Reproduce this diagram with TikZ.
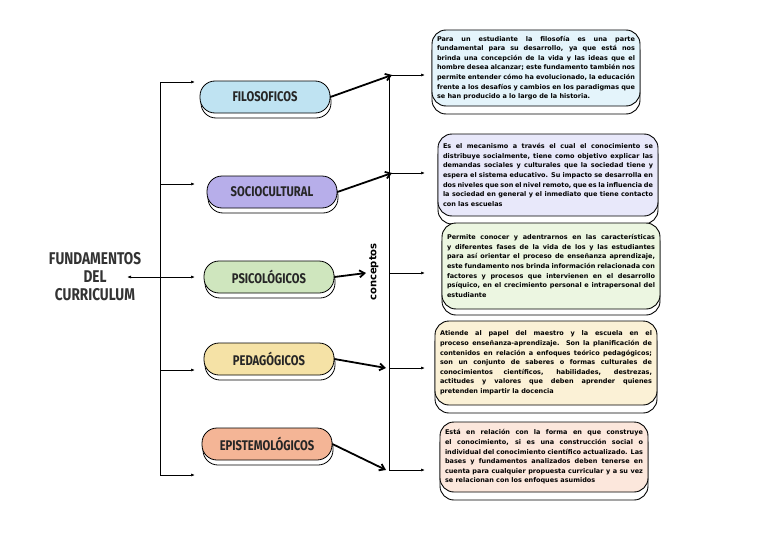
\documentclass[tikz,border=0pt]{standalone}
\usepackage{fontspec}
\setmainfont{DejaVu Sans}
\newfontfamily\titlef[FakeStretch=0.8]{Fira Sans}
\usetikzlibrary{arrows.meta,calc}
\newcommand\nohy{\hyphenpenalty=10000 \exhyphenpenalty=10000 \relax}
\definecolor{cblue}{HTML}{BFE3F2}
\definecolor{cblueT}{HTML}{E4F4FB}
\definecolor{cviol}{HTML}{B7AEEA}
\definecolor{cviolT}{HTML}{E8E8FA}
\definecolor{cgreen}{HTML}{CFE6BE}
\definecolor{cgreenT}{HTML}{ECF6E1}
\definecolor{cyel}{HTML}{F5E2A6}
\definecolor{cyelT}{HTML}{FBF1D6}
\definecolor{corg}{HTML}{F4B596}
\definecolor{corgT}{HTML}{FCE7DC}
\tikzset{
 pill/.style={draw=black,line width=0.8pt,rounded corners=15pt,minimum width=130pt,minimum height=32pt,font=\titlef\bfseries\fontsize{14}{14}\selectfont,text=black!85,inner sep=0pt},
 tbox/.style={draw=black,line width=0.9pt,rounded corners=14pt,inner sep=5pt,text width=#1,align=justify,font=\bfseries\fontsize{6.5}{9.6}\selectfont\nohy},
 thin/.style={line width=0.7pt,-{Latex[length=4pt,width=3pt]}},
 thick/.style={line width=1.8pt,-{Straight Barb[length=5pt,width=7pt]}}
}
\begin{document}
\begin{tikzpicture}[x=1pt,y=-1pt]
\useasboundingbox (0,0) rectangle (768,543);
\fill[white] (0,0) rectangle (768,543);
\node[font=\titlef\bfseries\fontsize{17}{18}\selectfont,align=center,text=black!80] (fund) at (95,277) {FUNDAMENTOS\\DEL\\CURRICULUM};
\coordinate (lt) at (160,82); \coordinate (lb) at (160,475);
\draw[line width=0.7pt] (lt) -- (lb);
\coordinate (fa) at (127,277);
\draw[line width=0.7pt,{Latex[length=4pt,width=3pt]}-{Latex[length=4pt,width=3pt]}] (fa) -- (195,277);
\foreach \y in {82,184,370,475} \draw[thin] (160,\y) -- (195,\y);
\node[pill,fill=white] (f0) at (266,102) {};
\node[pill,fill=cblue] (fil) at (265,97) {FILOSOFICOS};
\node[pill,fill=white] (s0) at (273,197) {};
\node[pill,fill=cviol] (soc) at (272,192) {SOCIOCULTURAL};
\node[pill,fill=white] (p0) at (270,282) {};
\node[pill,fill=cgreen] (psi) at (269,277) {PSICOLÓGICOS};
\node[pill,fill=white] (g0) at (270,364) {};
\node[pill,fill=cyel] (ped) at (269,359) {PEDAGÓGICOS};
\node[pill,fill=white] (e0) at (268,449) {};
\node[pill,fill=corg] (epi) at (267,444) {EPISTEMOLÓGICOS};
\coordinate (rt) at (389,75); \coordinate (rb) at (389,470);
\draw[line width=0.7pt] (rt) -- (rb);
\node[rotate=90,font=\bfseries\fontsize{10}{10}\selectfont] (conc) at (374,272) {conceptos};
\coordinate (a1) at (392,75); \coordinate (a2) at (392,173); \coordinate (a3) at (366,273);
\coordinate (a4) at (386,368); \coordinate (a5) at (386,470);
\draw[thick] (fil.east) -- (a1);
\draw[thick] (soc.east) -- (a2);
\draw[thick] (psi.east) -- (a3);
\draw[thick] (ped.east) -- (a4);
\draw[thick] (epi.east) -- (a5);
\foreach \y in {75,173,273,368,470} \draw[thin] (389,\y) -- (425,\y);
\node[tbox=198pt,fill=white,minimum height=76pt] (t1s) at (536,76) {};
\node[tbox=198pt,fill=cblueT,minimum height=76pt] (t1) at (536,68) {Para un estudiante la filosofía es una parte fundamental para su desarrollo, ya que está nos brinda una concepción de la vida y las ideas que el hombre desea alcanzar; este fundamento también nos permite entender cómo ha evolucionado, la educación frente a los desafíos y cambios en los paradigmas que se han producido a lo largo de la historia.};
\node[tbox=210pt,fill=white,minimum height=82pt] (t2s) at (548,183) {};
\node[tbox=210pt,fill=cviolT,minimum height=82pt] (t2) at (548,175) {Es el mecanismo a través el cual el conocimiento se distribuye socialmente, tiene como objetivo explicar las demandas sociales y culturales que la sociedad tiene y espera el sistema educativo. Su impacto se desarrolla en dos niveles que son el nivel remoto, que es la influencia de la sociedad en general y el inmediato que tiene contacto con las escuelas};
\node[tbox=208pt,fill=white,minimum height=86pt] (t3s) at (551,272) {};
\node[tbox=208pt,fill=cgreenT,minimum height=86pt] (t3) at (551,266) {Permite conocer y adentrarnos en las características y diferentes fases de la vida de los y las estudiantes para así orientar el proceso de enseñanza aprendizaje, este fundamento nos brinda información relacionada con factores y procesos que intervienen en el desarrollo psíquico, en el crecimiento personal e intrapersonal del estudiante};
\node[tbox=212pt,fill=white,minimum height=84pt] (t4s) at (546,371) {};
\node[tbox=212pt,fill=cyelT,minimum height=84pt] (t4) at (546,363) {Atiende al papel del maestro y la escuela en el proceso enseñanza-aprendizaje. Son la planificación de contenidos en relación a enfoques teórico pedagógicos; son un conjunto de saberes o formas culturales de conocimientos científicos, habilidades, destrezas, actitudes y valores que deben aprender quienes pretenden impartir la docencia};
\node[tbox=198pt,fill=white,minimum height=70pt] (t5s) at (544,465) {};
\node[tbox=198pt,fill=corgT,minimum height=70pt] (t5) at (544,457) {Está en relación con la forma en que construye el conocimiento, si es una construcción social o individual del conocimiento científico actualizado. Las bases y fundamentos analizados deben tenerse en cuenta para cualquier propuesta curricular y a su vez se relacionan con los enfoques asumidos};
\end{tikzpicture}
\end{document}
